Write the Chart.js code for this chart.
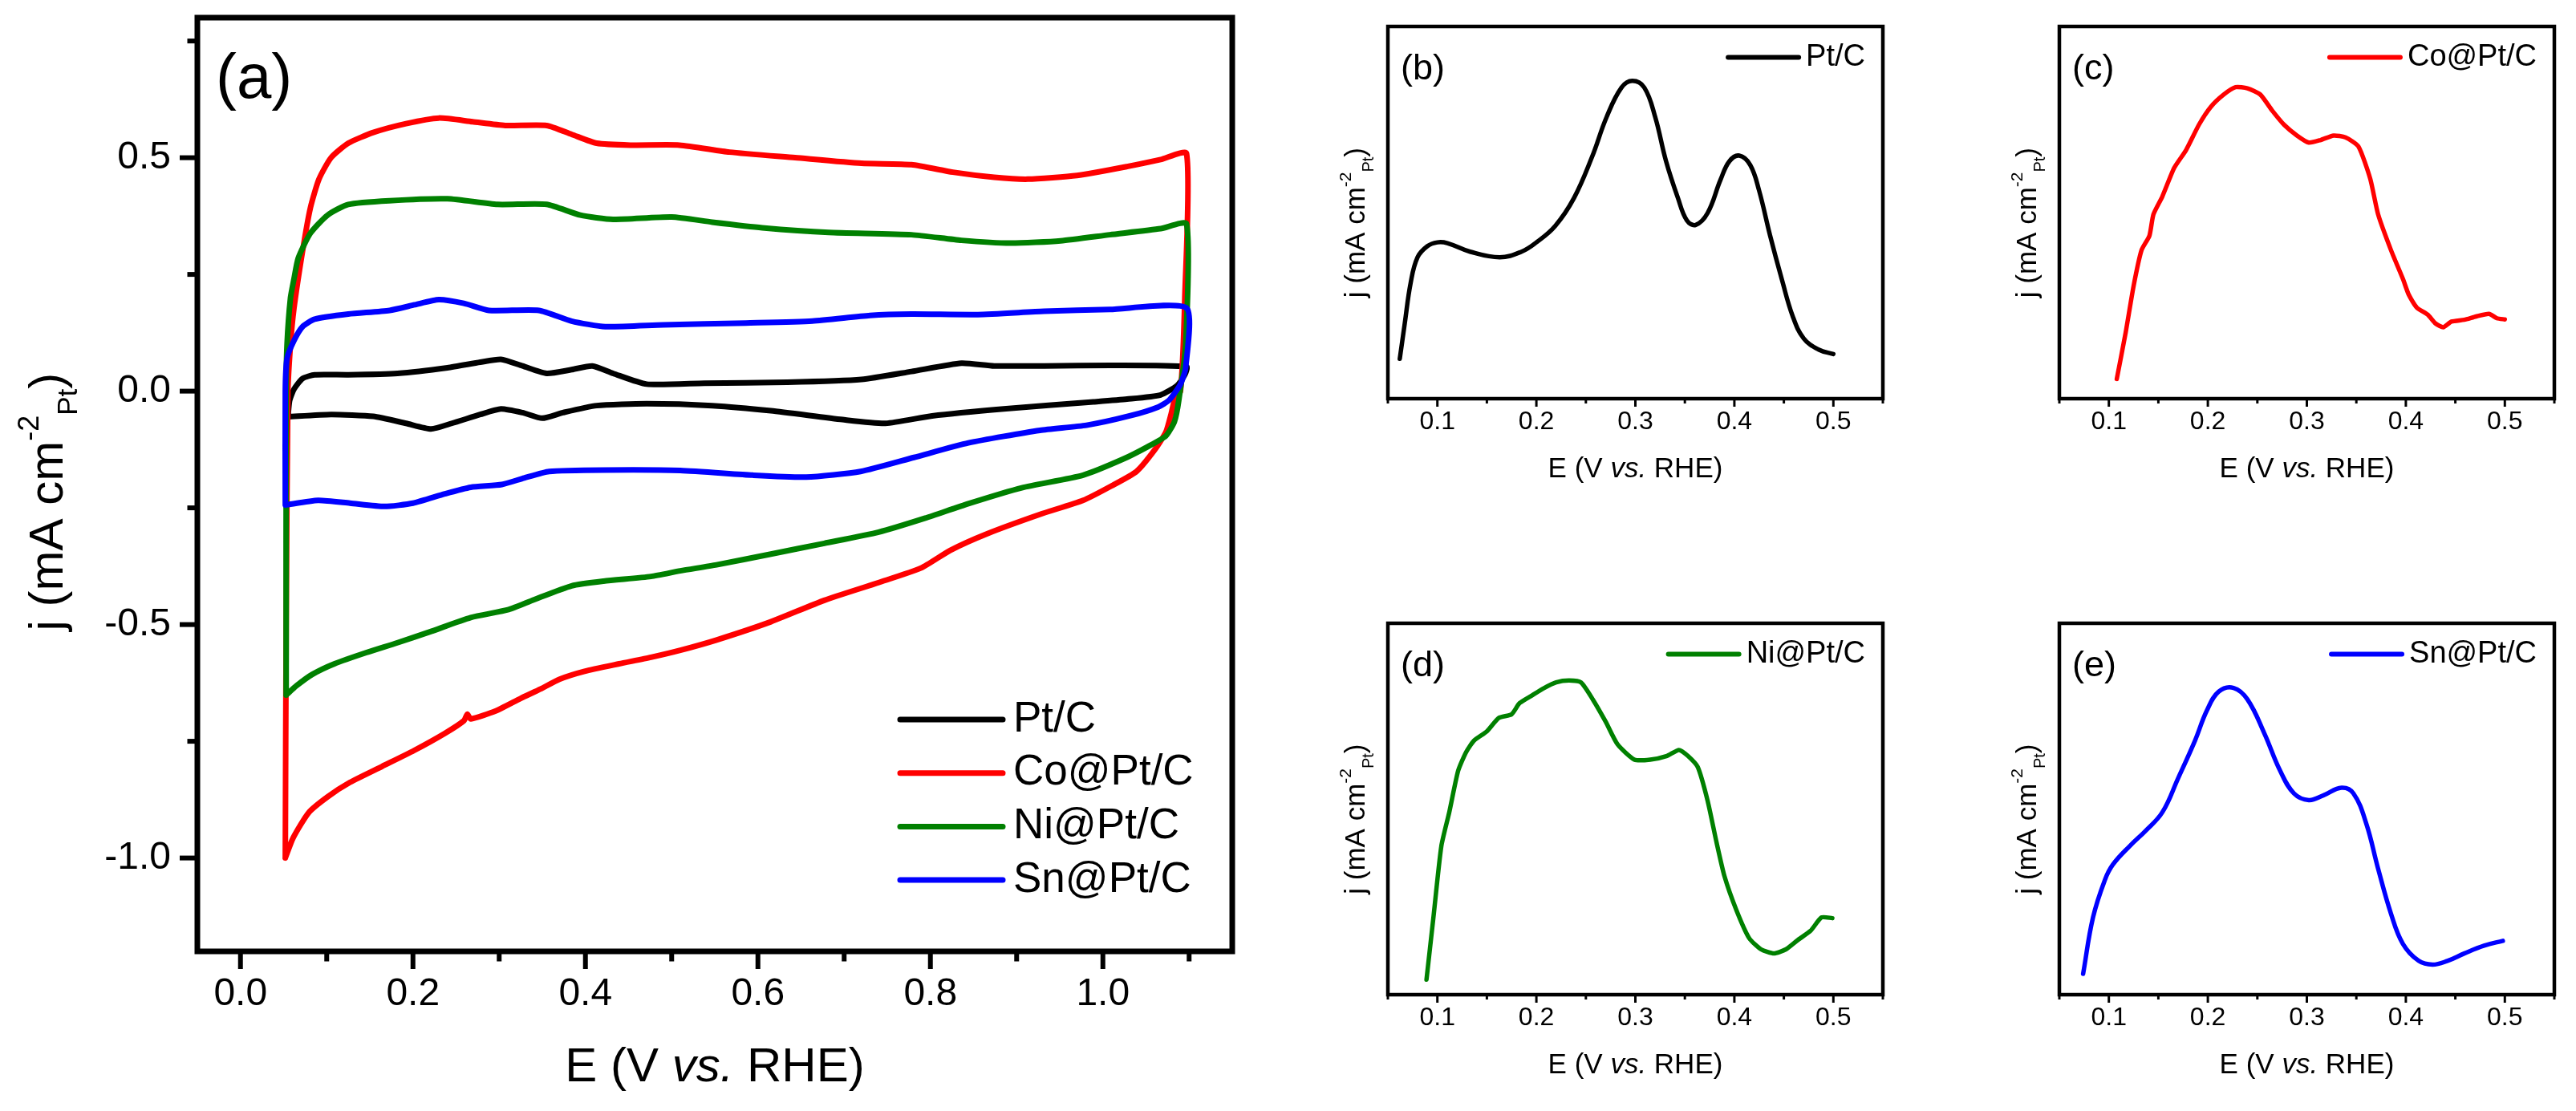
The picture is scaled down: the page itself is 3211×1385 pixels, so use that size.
<!DOCTYPE html>
<html>
<head>
<meta charset="utf-8">
<script src="https://cdn.jsdelivr.net/npm/chart.js@4.4.1/dist/chart.umd.min.js"></script>
<style>
  html, body { margin: 0; padding: 0; background: #fff; }
  #wrap { position: relative; width: 3211px; height: 1385px; overflow: hidden; }
  canvas { position: absolute; }
</style>
</head>
<body>
<div id="wrap">
  <canvas id="panelA"></canvas>
  <canvas id="panelB"></canvas>
  <canvas id="panelC"></canvas>
  <canvas id="panelD"></canvas>
  <canvas id="panelE"></canvas>
</div>
<script>
const FAMILY = "'Liberation Sans', Arial, sans-serif";

// series names and colours
const seriesNames = ['Pt/C', 'Co@Pt/C', 'Ni@Pt/C', 'Sn@Pt/C'];
const seriesColors = ['#000000', '#ff0000', '#008000', '#0000ff'];

// (a) cyclic voltammograms, E in V vs RHE, j in mA cm-2
const cvPtE = [0.055, 0.057, 0.062, 0.072, 0.086, 0.125, 0.182, 0.24, 0.278, 0.302, 0.327, 0.355, 0.384, 0.408, 0.432, 0.471, 0.538, 0.634, 0.72, 0.778, 0.836, 0.874, 0.932, 1.009, 1.097, 1.095, 1.086, 1.067, 1.028, 0.989, 0.885, 0.802, 0.748, 0.698, 0.615, 0.547, 0.471, 0.413, 0.374, 0.35, 0.327, 0.302, 0.278, 0.245, 0.221, 0.192, 0.154, 0.105, 0.055];
const cvPtJ = [-0.055, -0.02, 0.004, 0.027, 0.035, 0.035, 0.038, 0.05, 0.062, 0.068, 0.054, 0.038, 0.046, 0.054, 0.038, 0.015, 0.017, 0.019, 0.025, 0.042, 0.06, 0.054, 0.054, 0.055, 0.052, 0.035, 0.012, -0.008, -0.017, -0.023, -0.038, -0.053, -0.069, -0.061, -0.042, -0.031, -0.027, -0.031, -0.046, -0.058, -0.046, -0.038, -0.05, -0.069, -0.081, -0.069, -0.054, -0.05, -0.055];

const cvCoE = [0.052, 0.053, 0.055, 0.058, 0.062, 0.072, 0.081, 0.091, 0.105, 0.125, 0.154, 0.192, 0.230, 0.269, 0.307, 0.355, 0.384, 0.413, 0.452, 0.509, 0.567, 0.643, 0.720, 0.778, 0.826, 0.874, 0.913, 0.970, 1.028, 1.067, 1.097,
  1.095, 1.090, 1.083, 1.079, 1.073, 1.060, 1.039, 1.010, 0.977, 0.927, 0.865, 0.823, 0.789, 0.740, 0.677, 0.615, 0.552, 0.510, 0.476, 0.439, 0.399, 0.370, 0.348, 0.325, 0.296, 0.267, 0.263, 0.259, 0.237, 0.201, 0.164, 0.127, 0.101, 0.079, 0.061, 0.052];
const cvCoJ = [-1.0, -0.5, 0.0, 0.1, 0.177, 0.3, 0.392, 0.454, 0.5, 0.531, 0.554, 0.573, 0.585, 0.577, 0.569, 0.569, 0.55, 0.531, 0.527, 0.527, 0.512, 0.5, 0.488, 0.485, 0.469, 0.458, 0.454, 0.462, 0.481, 0.496, 0.509,
  0.2, 0.0, -0.02, -0.05, -0.088, -0.126, -0.172, -0.203, -0.234, -0.264, -0.306, -0.341, -0.379, -0.41, -0.448, -0.494, -0.533, -0.555, -0.57, -0.584, -0.6, -0.617, -0.638, -0.658, -0.685, -0.702, -0.692, -0.706, -0.733, -0.77, -0.804, -0.838, -0.869, -0.903, -0.957, -1.0];

const cvNiE = [0.053, 0.053, 0.054, 0.058, 0.062, 0.067, 0.081, 0.101, 0.125, 0.173, 0.240, 0.298, 0.355, 0.394, 0.432, 0.500, 0.547, 0.605, 0.682, 0.778, 0.836, 0.893, 0.951, 1.008, 1.067, 1.097,
  1.096, 1.088, 1.083, 1.073, 1.052, 1.023, 0.977, 0.906, 0.844, 0.794, 0.740, 0.677, 0.615, 0.552, 0.510, 0.476, 0.421, 0.384, 0.340, 0.311, 0.267, 0.219, 0.182, 0.146, 0.109, 0.083, 0.065, 0.053];
const cvNiJ = [-0.651, 0.0, 0.1, 0.2, 0.24, 0.285, 0.338, 0.377, 0.4, 0.408, 0.412, 0.4, 0.4, 0.377, 0.368, 0.373, 0.362, 0.35, 0.34, 0.335, 0.323, 0.317, 0.322, 0.335, 0.348, 0.358,
  0.1, -0.02, -0.065, -0.096, -0.119, -0.146, -0.18, -0.207, -0.241, -0.272, -0.302, -0.326, -0.349, -0.372, -0.385, -0.397, -0.407, -0.417, -0.447, -0.468, -0.485, -0.516, -0.539, -0.56, -0.584, -0.607, -0.631, -0.651];

const cvSnE = [0.052, 0.052, 0.054, 0.062, 0.072, 0.086, 0.125, 0.173, 0.202, 0.230, 0.259, 0.288, 0.346, 0.384, 0.423, 0.490, 0.586, 0.663, 0.730, 0.778, 0.855, 0.932, 1.008, 1.097,
  1.096, 1.090, 1.077, 1.064, 1.031, 0.981, 0.927, 0.844, 0.781, 0.719, 0.656, 0.594, 0.510, 0.421, 0.358, 0.329, 0.303, 0.267, 0.237, 0.200, 0.167, 0.127, 0.090, 0.052];
const cvSnJ = [-0.244, 0.0, 0.07, 0.108, 0.138, 0.154, 0.165, 0.173, 0.185, 0.196, 0.188, 0.173, 0.173, 0.15, 0.138, 0.142, 0.146, 0.15, 0.162, 0.165, 0.164, 0.171, 0.175, 0.178,
  0.05, 0.015, -0.019, -0.034, -0.053, -0.073, -0.084, -0.111, -0.142, -0.172, -0.184, -0.18, -0.17, -0.169, -0.172, -0.186, -0.2, -0.206, -0.22, -0.24, -0.247, -0.24, -0.234, -0.244];

// (b)-(e) H-desorption region, j in arbitrary units (no y scale shown)
const hPtE = [0.062, 0.067, 0.073, 0.080, 0.090, 0.100, 0.110, 0.133, 0.163, 0.185, 0.200, 0.219, 0.238, 0.256, 0.271, 0.286, 0.297, 0.309, 0.320, 0.331, 0.343, 0.352, 0.361, 0.373, 0.386, 0.395, 0.405, 0.416, 0.425, 0.436, 0.448, 0.459, 0.470, 0.485, 0.500];
const hPtJ = [10.7, 20.1, 31.1, 38, 41, 42, 41.8, 39.5, 38, 39.5, 42, 46.4, 53.9, 64.8, 75.7, 83.6, 85.4, 83.6, 75.7, 63.8, 53.9, 47.9, 46.7, 49.9, 58.8, 63.8, 65.3, 62.8, 55.9, 43.9, 32, 22.1, 16.2, 13.2, 12];

const hCoE = [0.108, 0.117, 0.125, 0.133, 0.141, 0.145, 0.154, 0.166, 0.178, 0.191, 0.203, 0.216, 0.228, 0.240, 0.253, 0.265, 0.277, 0.290, 0.302, 0.314, 0.327, 0.339, 0.352, 0.364, 0.372, 0.385, 0.397, 0.403, 0.411, 0.422, 0.430, 0.438, 0.446, 0.459, 0.471, 0.484, 0.492, 0.500];
const hCoJ = [5.3, 17.8, 30.3, 39.9, 43.8, 49.5, 54.3, 62, 66.8, 73.6, 78.4, 81.7, 83.7, 83.4, 81.7, 77.4, 73.6, 70.7, 68.8, 69.5, 70.7, 70.2, 67.8, 59.1, 49.5, 39.9, 32.2, 27.9, 24.5, 22.6, 20.2, 19.2, 20.7, 21.2, 22.1, 22.8, 21.6, 21.3];

const hNiE = [0.089, 0.096, 0.104, 0.112, 0.121, 0.129, 0.137, 0.150, 0.162, 0.175, 0.183, 0.195, 0.208, 0.220, 0.233, 0.245, 0.257, 0.270, 0.282, 0.299, 0.315, 0.332, 0.344, 0.353, 0.363, 0.373, 0.382, 0.390, 0.402, 0.415, 0.427, 0.440, 0.452, 0.464, 0.477, 0.488, 0.499];
const hNiJ = [4.05, 20.8, 40, 49.1, 60.3, 65.3, 68.4, 70.9, 74.5, 75.5, 78.5, 80.5, 82.6, 84.1, 84.6, 84.1, 79.5, 73.5, 67.4, 63.3, 63.3, 64.3, 65.9, 64.3, 61.3, 52.2, 41, 31.9, 22.8, 15.2, 12.2, 11.1, 12.2, 14.7, 17.2, 20.8, 20.6];

const hSnE = [0.074, 0.084, 0.096, 0.104, 0.121, 0.137, 0.154, 0.170, 0.187, 0.199, 0.211, 0.226, 0.240, 0.257, 0.273, 0.287, 0.302, 0.317, 0.335, 0.347, 0.360, 0.372, 0.385, 0.397, 0.413, 0.427, 0.442, 0.459, 0.479, 0.498];
const hSnJ = [5.6, 20.8, 30.9, 35, 40, 44.1, 49.1, 58.3, 68.4, 76.5, 81.6, 82.6, 79.5, 70.4, 60.3, 54.2, 52.4, 53.7, 55.7, 54.2, 46.1, 33.9, 21.8, 13.7, 9.1, 8.1, 9.1, 11.1, 13.2, 14.5];

// ticks and tick labels
const cvTicksE = [0.0, 0.1, 0.2, 0.3, 0.4, 0.5, 0.6, 0.7, 0.8, 0.9, 1.0, 1.1];
const cvLabelsE = ['0.0', '', '0.2', '', '0.4', '', '0.6', '', '0.8', '', '1.0', ''];
const cvTicksJ = [-1.0, -0.75, -0.5, -0.25, 0.0, 0.25, 0.5, 0.75];
const cvLabelsJ = ['-1.0', '', '-0.5', '', '0.0', '', '0.5', ''];
const hTicksE = [0.05, 0.1, 0.15, 0.2, 0.25, 0.3, 0.35, 0.4, 0.45, 0.5, 0.55];
const hLabelsE = ['', '0.1', '', '0.2', '', '0.3', '', '0.4', '', '0.5', ''];

const xTitle = [{ t: 'E (V ' }, { t: 'vs.', italic: true }, { t: ' RHE)' }];
const yTitle = [{ t: 'j (mA cm' }, { t: '-2', scale: 0.6, dy: -0.5 }, { t: 'Pt', scale: 0.58, dy: 0.3 }, { t: ')' }];

const pts = (xs, ys) => xs.map((x, i) => ({ x: x, y: ys[i] }));

function fontOf(p, size) {
  return (p.italic ? 'italic ' : '') + Math.round(size * (p.scale || 1)) + 'px ' + FAMILY;
}

// text with italic / super / subscript pieces, centred on cx
function drawRich(ctx, parts, cx, baseY, size) {
  let w = 0;
  parts.forEach(p => { ctx.font = fontOf(p, size); w += ctx.measureText(p.t).width; });
  let x = cx - w / 2;
  ctx.textAlign = 'left';
  ctx.textBaseline = 'alphabetic';
  parts.forEach(p => {
    ctx.font = fontOf(p, size);
    ctx.fillText(p.t, x, baseY + (p.dy || 0) * size);
    x += ctx.measureText(p.t).width;
  });
}

// frame, tick marks, titles, panel letter and legend
const decorPlugin = {
  id: 'decor',
  afterDraw(chart, args, o) {
    const ctx = chart.ctx, a = chart.chartArea;
    const sx = chart.scales.x, sy = chart.scales.y;
    ctx.save();
    ctx.strokeStyle = '#000';
    ctx.fillStyle = '#000';
    ctx.lineWidth = o.border;
    ctx.strokeRect(a.left, a.top, a.right - a.left, a.bottom - a.top);

    ctx.lineWidth = o.tickWidth;
    sx.ticks.forEach((t, i) => {
      const px = sx.getPixelForValue(t.value);
      const len = o.xLabels[i] ? o.major : o.minor;
      ctx.beginPath(); ctx.moveTo(px, a.bottom); ctx.lineTo(px, a.bottom + len); ctx.stroke();
    });
    if (o.yLabels) {
      sy.ticks.forEach((t, i) => {
        const py = sy.getPixelForValue(t.value);
        const len = o.yLabels[i] ? o.major : o.minor;
        ctx.beginPath(); ctx.moveTo(a.left, py); ctx.lineTo(a.left - len, py); ctx.stroke();
      });
    }

    // axis titles
    const cx = (a.left + a.right) / 2, cy = (a.top + a.bottom) / 2;
    drawRich(ctx, xTitle, cx, a.bottom + o.xTitleGap, o.titleSize);
    ctx.save();
    ctx.translate(a.left - o.yTitleGap, cy);
    ctx.rotate(-Math.PI / 2);
    drawRich(ctx, yTitle, -0.36 * o.titleSize, 0, o.titleSize);
    ctx.restore();

    // panel letter
    ctx.font = o.letterSize + 'px ' + FAMILY;
    ctx.textAlign = 'left';
    ctx.textBaseline = 'alphabetic';
    ctx.fillText(o.letter, a.left + o.letterDx, a.top + o.letterDy);

    // legend
    ctx.font = o.legendSize + 'px ' + FAMILY;
    ctx.textBaseline = 'middle';
    ctx.lineCap = 'round';
    ctx.lineWidth = o.legendLine;
    chart.data.datasets.forEach((ds, i) => {
      const y = a.top + o.legendTop + i * o.legendRow;
      let x0;
      if (o.legendRight) {
        const tw = ctx.measureText(ds.label).width;
        x0 = a.right - o.legendRight - tw - o.legendGap - o.legendLen;
      } else {
        x0 = a.right - o.legendFromRight;
      }
      ctx.strokeStyle = ds.borderColor;
      ctx.beginPath(); ctx.moveTo(x0, y); ctx.lineTo(x0 + o.legendLen, y); ctx.stroke();
      ctx.fillStyle = '#000';
      ctx.fillText(ds.label, x0 + o.legendLen + o.legendGap, y);
    });
    ctx.restore();
  }
};

function makePanel(id, rect, area, spec) {
  const cv = document.getElementById(id);
  cv.width = rect.w; cv.height = rect.h;
  cv.style.left = rect.x + 'px'; cv.style.top = rect.y + 'px';
  cv.style.width = rect.w + 'px'; cv.style.height = rect.h + 'px';
  const yw = area.left - rect.x;
  const xh = rect.y + rect.h - area.bottom;
  return new Chart(cv.getContext('2d'), {
    type: 'scatter',
    data: { datasets: spec.datasets },
    options: {
      responsive: false,
      devicePixelRatio: 1,
      animation: false,
      events: [],
      layout: {
        padding: { top: area.top - rect.y, right: rect.x + rect.w - area.right, left: 0, bottom: 0 }
      },
      elements: { point: { radius: 0 } },
      scales: {
        x: {
          type: 'linear', min: spec.xMin, max: spec.xMax,
          afterBuildTicks: s => { s.ticks = spec.xTicks.map(v => ({ value: v })); },
          afterFit: s => { s.height = xh; s.paddingLeft = 0; s.paddingRight = 0; },
          grid: { display: false, drawTicks: false },
          border: { display: false },
          ticks: {
            autoSkip: false, maxRotation: 0, minRotation: 0, color: '#000',
            padding: spec.xPad, font: { family: FAMILY, size: spec.tickSize },
            callback: (v, i) => spec.xLabels[i]
          }
        },
        y: {
          type: 'linear', min: spec.yMin, max: spec.yMax,
          display: spec.yShown,
          afterBuildTicks: s => { if (spec.yTicks) s.ticks = spec.yTicks.map(v => ({ value: v })); },
          afterFit: s => { s.width = yw; s.paddingTop = 0; s.paddingBottom = 0; },
          grid: { display: false, drawTicks: false },
          border: { display: false },
          ticks: {
            autoSkip: false, color: '#000',
            padding: spec.yPad || 0, font: { family: FAMILY, size: spec.tickSize },
            callback: (v, i) => spec.yLabels ? spec.yLabels[i] : ''
          }
        }
      },
      plugins: {
        legend: { display: false },
        tooltip: { enabled: false },
        decor: spec.decor
      }
    },
    plugins: [decorPlugin]
  });
}

function cvSet(i, xs, ys, order) {
  return {
    label: seriesNames[i], data: pts(xs, ys), showLine: true,
    borderColor: seriesColors[i], backgroundColor: seriesColors[i],
    borderWidth: 7, tension: 0.2, order: order,
    borderJoinStyle: 'round', borderCapStyle: 'round'
  };
}

// panel (a)
makePanel('panelA', { x: 0, y: 0, w: 1620, h: 1385 }, { left: 246, top: 22, right: 1536, bottom: 1186 }, {
  datasets: [
    cvSet(0, cvPtE, cvPtJ, 4),
    cvSet(1, cvCoE, cvCoJ, 3),
    cvSet(2, cvNiE, cvNiJ, 2),
    cvSet(3, cvSnE, cvSnJ, 1)
  ],
  xMin: -0.05, xMax: 1.15, yMin: -1.2, yMax: 0.8,
  xTicks: cvTicksE, xLabels: cvLabelsE, yTicks: cvTicksJ, yLabels: cvLabelsJ,
  yShown: true, tickSize: 48, xPad: 25, yPad: 33,
  decor: {
    border: 7, tickWidth: 6, major: 22, minor: 12.5,
    xLabels: cvLabelsE, yLabels: cvLabelsJ,
    titleSize: 60, xTitleGap: 162, yTitleGap: 168,
    letter: '(a)', letterSize: 78, letterDx: 23, letterDy: 100,
    legendSize: 53, legendLine: 7, legendLen: 128, legendGap: 13,
    legendFromRight: 414, legendTop: 875, legendRow: 66.7
  }
});

// panels (b)-(e)
function hPanel(id, rect, area, idx, xs, ys, letter, tension) {
  makePanel(id, rect, area, {
    datasets: [{
      label: seriesNames[idx], data: pts(xs, ys), showLine: true,
      borderColor: seriesColors[idx], backgroundColor: seriesColors[idx],
      borderWidth: 5.5, tension: tension,
      borderJoinStyle: 'round', borderCapStyle: 'round'
    }],
    xMin: 0.05, xMax: 0.55, yMin: 0, yMax: 100,
    xTicks: hTicksE, xLabels: hLabelsE,
    yShown: false, tickSize: 32, xPad: 10,
    decor: {
      border: 4.5, tickWidth: 3, major: 10, minor: 6,
      xLabels: hLabelsE, yLabels: null,
      titleSize: 35, xTitleGap: 98, yTitleGap: 29,
      letter: letter, letterSize: 45, letterDx: 16, letterDy: 66,
      legendSize: 38, legendLine: 6, legendLen: 88, legendGap: 9,
      legendRight: 22, legendTop: 38.5, legendRow: 0
    }
  });
}

hPanel('panelB', { x: 1620, y: 0, w: 800, h: 700 }, { left: 1730, top: 33, right: 2347, bottom: 497 }, 0, hPtE, hPtJ, '(b)', 0.4);
hPanel('panelC', { x: 2440, y: 0, w: 771, h: 700 }, { left: 2567, top: 33, right: 3184, bottom: 497 }, 1, hCoE, hCoJ, '(c)', 0.2);
hPanel('panelD', { x: 1620, y: 700, w: 800, h: 685 }, { left: 1730, top: 777, right: 2347, bottom: 1240 }, 2, hNiE, hNiJ, '(d)', 0.2);
hPanel('panelE', { x: 2440, y: 700, w: 771, h: 685 }, { left: 2567, top: 777, right: 3184, bottom: 1240 }, 3, hSnE, hSnJ, '(e)', 0.4);
</script>
</body>
</html>
